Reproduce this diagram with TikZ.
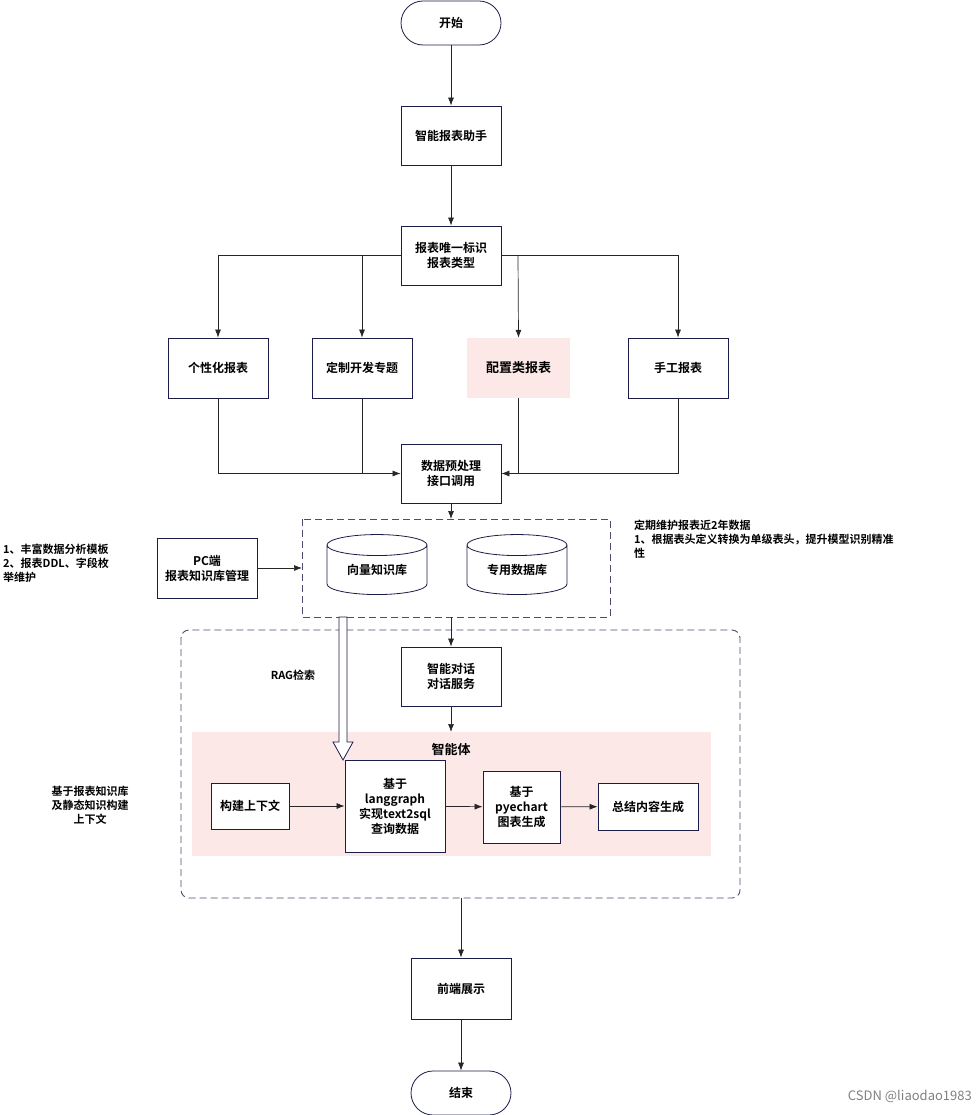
\documentclass[tikz,border=0pt]{standalone}
\usepackage{fontspec}
\setmainfont{Noto Sans CJK SC}[BoldFont={* Bold}]
\usetikzlibrary{arrows.meta,shapes.geometric}
\definecolor{bd}{HTML}{1C1C48}
\definecolor{pk}{HTML}{FDE8E8}
\begin{document}
\begin{tikzpicture}[x=1pt,y=-1pt,font=\fontsize{12}{15}\selectfont\bfseries,
 box/.style={draw=bd,fill=white,line width=0.8pt,align=center,inner sep=0pt},
 cyl/.style={cylinder,shape border rotate=90,aspect=0.35,draw=bd,line width=0.8pt,minimum width=100pt,minimum height=60pt,inner sep=0pt},
 arr/.style={-{Latex[length=8pt,width=6pt]},line width=0.7pt,draw=black!85},
 ln/.style={line width=0.7pt,draw=black!85},
 dsh/.style={draw=black!65!blue!40!gray,line width=0.9pt,dash pattern=on 7pt off 4pt},
 note/.style={align=left,font=\fontsize{11}{14}\selectfont\bfseries,inner sep=0pt}]
\useasboundingbox (0,0) rectangle (975,1115);
\def\bx#1#2#3#4#5#6{\node[box,minimum width=#4pt,minimum height=#5pt] (#1) at (#2,#3) {#6};}
% top
\node[box,rounded corners=22pt,minimum width=100pt,minimum height=44pt] (start) at (451,23) {开始};
\bx{zn}{451}{135.5}{100}{59}{智能报表助手}
\bx{bs}{451}{255.5}{100}{59}{报表唯一标识\\报表类型}
\bx{gx}{218}{368}{100}{60}{个性化报表}
\bx{dz}{362}{368}{100}{60}{定制开发专题}
\node[fill=pk,minimum width=103pt,minimum height=60pt,inner sep=0pt,font=\fontsize{13}{15}\selectfont\bfseries] (pz) at (518.5,368) {配置类报表};
\bx{sg}{678}{368}{100}{60}{手工报表}
\bx{sj}{451}{473.5}{100}{59}{数据预处理\\接口调用}
% db region
\draw[dsh] (302,519) rectangle (610,617);
\coordinate (dtop) at (451,519); \coordinate (dleft) at (302,568); \coordinate (dbot) at (451,617);
\node[cyl] (c1) at (377,570) {向量知识库};
\node[cyl] (c2) at (517,570) {专用数据库};
\bx{pc}{207}{568}{100}{60}{PC端\\报表知识库管理}
\node[note,anchor=north west] (n1) at (3,544) {1、丰富数据分析模板\\2、报表DDL、字段枚\\举维护};
\node[note,anchor=north west] (n2) at (634,520) {定期维护报表近2年数据\\1、根据表头定义转换为单级表头，提升模型识别精准\\性};
% agent region
\draw[dsh,rounded corners=8pt] (181,630) rectangle (740,898);
\coordinate (btop) at (461,898);
\bx{dh}{451}{676.5}{100}{59}{智能对话\\对话服务}
\node[note] (rag) at (293,675) {RAG检索};
\fill[pk] (192,732) rectangle (711,856);
\coordinate (ptop) at (451,732);
\node[font=\fontsize{13}{15}\selectfont\bfseries] (zt) at (451,750) {智能体};
\bx{gj}{250}{806}{78}{46}{构建上下文}
\bx{lg}{395}{806}{100}{92}{基于\\langgraph\\实现text2sql\\查询数据}
\bx{py}{521.5}{807}{77}{72}{基于\\pyechart\\图表生成}
\bx{zj}{648}{806.5}{100}{47}{总结内容生成}
\node[note,align=center] (n3) at (90,805) {基于报表知识库\\及静态知识构建\\上下文};
\bx{qd}{461}{988.5}{100}{61}{前端展示}
\node[box,rounded corners=22pt,minimum width=100pt,minimum height=44pt] (end) at (461,1093) {结束};
\node[text=gray,font=\fontsize{13}{15}\selectfont,anchor=south east,inner sep=0pt] (wm) at (972,1103) {CSDN @liaodao1983};
% connectors
\draw[arr] (start) -- (zn);
\draw[arr] (zn) -- (bs);
\draw[arr] (bs.west) -| (gx.north);
\draw[arr] (bs.east) -| (sg.north);
\draw[arr] (362,255.5) -- (dz.north);
\draw[arr] (518,255.5) -- (pz.north);
\draw[arr] (gx.south) |- (sj.west);
\draw[arr] (sg.south) |- (sj.east);
\draw[ln] (dz.south) -- (362,473.5);
\draw[ln] (518,398) -- (518,473.5);
\draw[arr] (sj) -- (dtop);
\draw[arr] (pc) -- (dleft);
\draw[arr] (dbot) -- (dh);
\draw[arr] (dh) -- (ptop);
\draw[line width=0.8pt,draw=bd,fill=white] (339,617) -- (347,617) -- (347,742) -- (353,742) -- (343,760) -- (333,742) -- (339,742) -- cycle;
\draw[arr] (gj) -- (lg);
\draw[arr] (lg) -- (py);
\draw[arr] (py) -- (zj);
\draw[arr] (btop) -- (qd);
\draw[arr] (qd) -- (end);
\end{tikzpicture}
\end{document}
